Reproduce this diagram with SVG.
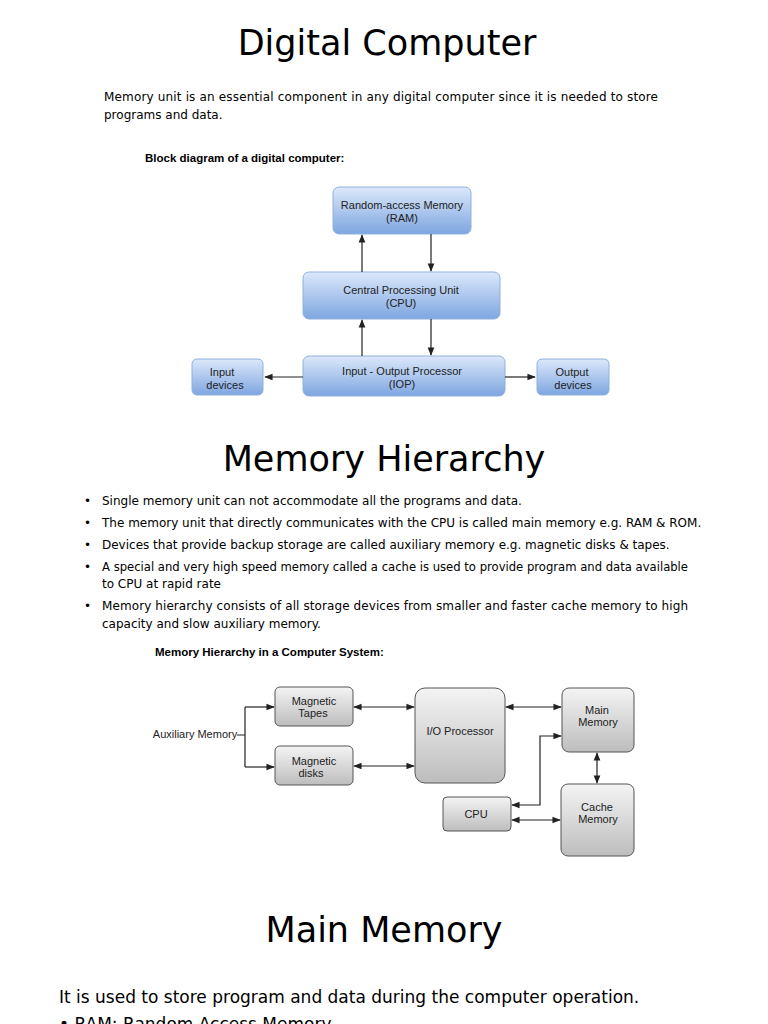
<svg xmlns="http://www.w3.org/2000/svg" width="768" height="1024" viewBox="0 0 768 1024">
<style>
.h{font-family:"DejaVu Sans",sans-serif;font-size:35px;fill:#000;text-anchor:middle}
.p{font-family:"DejaVu Sans",sans-serif;font-size:12px;fill:#000}
.d{font-family:"Liberation Sans",Arial,sans-serif;font-size:11px;fill:#222;text-anchor:middle}
.cap{font-family:"Liberation Sans",Arial,sans-serif;font-size:11.5px;font-weight:bold;fill:#000}
.b{fill:url(#blue);stroke:#8fb0de;stroke-width:1}
.g{fill:url(#grey);stroke:#555;stroke-width:1}
.c path,.c line{stroke:#222;stroke-width:1.2;fill:none}
</style>
<defs>
<linearGradient id="blue" x1="0" y1="0" x2="0" y2="1"><stop offset="0" stop-color="#dce8fb"/><stop offset="1" stop-color="#7ea6e0"/></linearGradient>
<linearGradient id="grey" x1="0" y1="0" x2="0" y2="1"><stop offset="0" stop-color="#f4f4f4"/><stop offset="1" stop-color="#bdbdbd"/></linearGradient>
<marker id="a" viewBox="0 0 10 10" refX="9" refY="5" markerWidth="7" markerHeight="7" orient="auto-start-reverse"><path d="M0,1 L10,5 L0,9 Z" fill="#222"/></marker>
</defs>
<rect width="768" height="1024" fill="#fff"/>
<text class="h" x="387" y="55">Digital Computer</text>
<text class="p" x="104" y="101" textLength="554" lengthAdjust="spacing">Memory unit is an essential component in any digital computer since it is needed to store</text>
<text class="p" x="104" y="119">programs and data.</text>
<text class="cap" x="145" y="162">Block diagram of a digital computer:</text>
<g id="ram"><rect class="b" x="333" y="187" width="138" height="47" rx="6"/><text class="d" x="402" y="209">Random-access Memory</text><text class="d" x="402" y="222">(RAM)</text></g>
<g id="cpu1"><rect class="b" x="303" y="272" width="197" height="47" rx="6"/><text class="d" x="401" y="294">Central Processing Unit</text><text class="d" x="401" y="307">(CPU)</text></g>
<g id="iop"><rect class="b" x="303" y="356" width="202" height="40" rx="6"/><text class="d" x="402" y="375">Input - Output Processor</text><text class="d" x="402" y="388">(IOP)</text></g>
<g id="input"><rect class="b" x="192" y="359" width="71" height="36" rx="5"/><text class="d" x="222" y="376">Input</text><text class="d" x="225" y="389">devices</text></g>
<g id="output"><rect class="b" x="537" y="359" width="72" height="36" rx="5"/><text class="d" x="572" y="376">Output</text><text class="d" x="573" y="389">devices</text></g>
<g class="c" id="c1">
<line x1="362" y1="272" x2="362" y2="235" marker-end="url(#a)"/>
<line x1="431" y1="234" x2="431" y2="271" marker-end="url(#a)"/>
<line x1="362" y1="356" x2="362" y2="320" marker-end="url(#a)"/>
<line x1="431" y1="319" x2="431" y2="355" marker-end="url(#a)"/>
<line x1="303" y1="377" x2="265" y2="377" marker-end="url(#a)"/>
<line x1="505" y1="377" x2="535" y2="377" marker-end="url(#a)"/>
</g>
<text class="h" x="384" y="471">Memory Hierarchy</text>
<g class="p">
<text x="84" y="505">•</text><text x="102" y="505">Single memory unit can not accommodate all the programs and data.</text>
<text x="84" y="527">•</text><text x="102" y="527">The memory unit that directly communicates with the CPU is called main memory e.g. RAM &amp; ROM.</text>
<text x="84" y="549">•</text><text x="102" y="549">Devices that provide backup storage are called auxiliary memory e.g. magnetic disks &amp; tapes.</text>
<text x="84" y="571">•</text><text x="102" y="571" textLength="586" lengthAdjust="spacingAndGlyphs">A special and very high speed memory called a cache is used to provide program and data available</text>
<text x="102" y="588">to CPU at rapid rate</text>
<text x="84" y="610">•</text><text x="102" y="610" textLength="586" lengthAdjust="spacing">Memory hierarchy consists of all storage devices from smaller and faster cache memory to high</text>
<text x="102" y="628">capacity and slow auxiliary memory.</text>
</g>
<text class="cap" x="155" y="656">Memory Hierarchy in a Computer System:</text>
<text class="d" x="195" y="738">Auxiliary Memory</text>
<g id="tapes"><rect class="g" x="275" y="687" width="78" height="39" rx="5"/><text class="d" x="314" y="705">Magnetic</text><text class="d" x="313" y="717">Tapes</text></g>
<g id="disks"><rect class="g" x="275" y="746" width="78" height="39" rx="5"/><text class="d" x="314" y="765">Magnetic</text><text class="d" x="311" y="777">disks</text></g>
<g id="io"><rect class="g" x="415" y="688" width="90" height="95" rx="10"/><text class="d" x="460" y="735">I/O Processor</text></g>
<g id="main"><rect class="g" x="562" y="688" width="72" height="64" rx="7"/><text class="d" x="597" y="714">Main</text><text class="d" x="598" y="726">Memory</text></g>
<g id="cache"><rect class="g" x="561" y="784" width="73" height="72" rx="7"/><text class="d" x="597" y="811">Cache</text><text class="d" x="598" y="823">Memory</text></g>
<g id="cpu2"><rect class="g" x="443" y="797" width="68" height="34" rx="4"/><text class="d" x="476" y="818">CPU</text></g>
<g class="c" id="c2">
<path d="M237,735 H245 M245,707 V767"/>
<line x1="245" y1="707" x2="274" y2="707" marker-end="url(#a)"/>
<line x1="245" y1="767" x2="274" y2="767" marker-end="url(#a)"/>
<line x1="354" y1="707" x2="414" y2="707" marker-start="url(#a)" marker-end="url(#a)"/>
<line x1="354" y1="766" x2="414" y2="766" marker-start="url(#a)" marker-end="url(#a)"/>
<line x1="506" y1="707" x2="561" y2="707" marker-start="url(#a)" marker-end="url(#a)"/>
<path d="M512,805 H540 V736 H561" marker-start="url(#a)" marker-end="url(#a)"/>
<line x1="597" y1="753" x2="597" y2="783" marker-start="url(#a)" marker-end="url(#a)"/>
<line x1="512" y1="820" x2="560" y2="820" marker-start="url(#a)" marker-end="url(#a)"/>
</g>
<text class="h" x="384" y="942">Main Memory</text>
<text font-family="DejaVu Sans,sans-serif" font-size="17" x="59" y="1003">It is used to store program and data during the computer operation.</text>
<text font-family="DejaVu Sans,sans-serif" font-size="17" x="59" y="1030">• RAM: Random Access Memory</text>
</svg>
